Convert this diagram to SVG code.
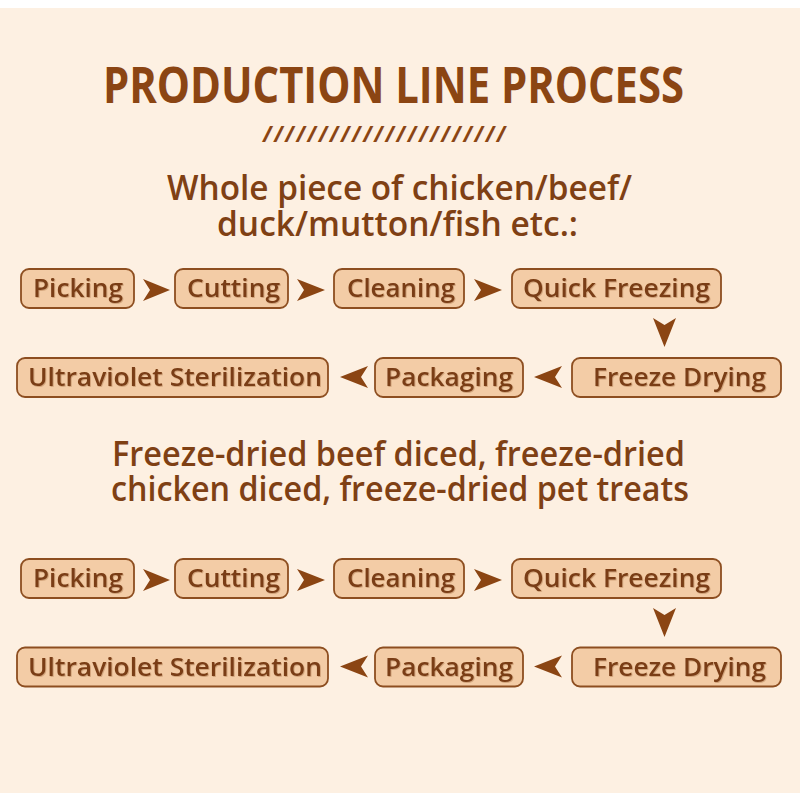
<svg xmlns="http://www.w3.org/2000/svg" width="800" height="800" viewBox="0 0 800 800">
<defs>
<filter id="sh" x="-5%" y="-20%" width="110%" height="140%">
<feDropShadow dx="0.8" dy="0.8" stdDeviation="0.6" flood-color="#B9855A" flood-opacity="0.7"/>
</filter>
</defs>
<style>
.bg{fill:#FDF0E2}
.title{font-family:"Open Sans","Liberation Sans",sans-serif;font-weight:700;fill:#8B4513;font-size:50px}
.sl{font-family:"Liberation Sans",sans-serif;fill:#8B4513;font-size:22px}
.sub{font-family:"Open Sans","Liberation Sans",sans-serif;font-weight:600;fill:#7F4014;font-size:35px}
.box rect{fill:#F3CCA6;stroke:#8D4E20;stroke-width:1.8}
.box text{font-family:"Open Sans","Liberation Sans",sans-serif;font-weight:600;fill:#7A3D12;font-size:25px;filter:url(#sh)}
.arr{fill:#8B4513}
</style>
<rect width="800" height="800" fill="#FFFFFF"/>
<rect class="bg" x="0" y="8" width="800" height="785"/>

<text class="title" x="393.5" y="103" text-anchor="middle" textLength="581" lengthAdjust="spacingAndGlyphs">PRODUCTION LINE PROCESS</text>
<text class="sl" x="384.5" y="142" text-anchor="middle" textLength="245" lengthAdjust="spacingAndGlyphs">//////////////////////</text>

<text class="sub" x="399.5" y="200" text-anchor="middle" textLength="465" lengthAdjust="spacingAndGlyphs">Whole piece of chicken/beef/</text>
<text class="sub" x="397.5" y="236" text-anchor="middle" textLength="361" lengthAdjust="spacingAndGlyphs">duck/mutton/fish etc.:</text>

<text class="sub" x="398.5" y="466" text-anchor="middle" textLength="573" lengthAdjust="spacingAndGlyphs">Freeze-dried beef diced, freeze-dried</text>
<text class="sub" x="400" y="501" text-anchor="middle" textLength="578" lengthAdjust="spacingAndGlyphs">chicken diced, freeze-dried pet treats</text>

<!-- Flow 1 -->
<g id="n1-picking" class="box"><rect x="21" y="269" width="113" height="39" rx="8"/><text x="78" y="297" text-anchor="middle" textLength="90" lengthAdjust="spacingAndGlyphs">Picking</text></g>
<g id="n1-cutting" class="box"><rect x="175" y="269" width="113" height="39" rx="8"/><text x="233.5" y="297" text-anchor="middle" textLength="93" lengthAdjust="spacingAndGlyphs">Cutting</text></g>
<g id="n1-cleaning" class="box"><rect x="334" y="269" width="130" height="39" rx="8"/><text x="401" y="297" text-anchor="middle" textLength="108" lengthAdjust="spacingAndGlyphs">Cleaning</text></g>
<g id="n1-quick-freezing" class="box"><rect x="512" y="269" width="209" height="39" rx="8"/><text x="616.5" y="297" text-anchor="middle" textLength="187" lengthAdjust="spacingAndGlyphs">Quick Freezing</text></g>
<g id="n1-freeze-drying" class="box"><rect x="572" y="358" width="209" height="39" rx="8"/><text x="679.5" y="386" text-anchor="middle" textLength="173" lengthAdjust="spacingAndGlyphs">Freeze Drying</text></g>
<g id="n1-packaging" class="box"><rect x="375" y="358" width="148" height="39" rx="8"/><text x="449" y="386" text-anchor="middle" textLength="128" lengthAdjust="spacingAndGlyphs">Packaging</text></g>
<g id="n1-uv" class="box"><rect x="17" y="358" width="311" height="39" rx="8"/><text x="175" y="386" text-anchor="middle" textLength="294" lengthAdjust="spacingAndGlyphs">Ultraviolet Sterilization</text></g>

<!-- Flow 2 -->
<g id="n2-picking" class="box"><rect x="21" y="559" width="113" height="39" rx="8"/><text x="78" y="587" text-anchor="middle" textLength="90" lengthAdjust="spacingAndGlyphs">Picking</text></g>
<g id="n2-cutting" class="box"><rect x="175" y="559" width="113" height="39" rx="8"/><text x="233.5" y="587" text-anchor="middle" textLength="93" lengthAdjust="spacingAndGlyphs">Cutting</text></g>
<g id="n2-cleaning" class="box"><rect x="334" y="559" width="130" height="39" rx="8"/><text x="401" y="587" text-anchor="middle" textLength="108" lengthAdjust="spacingAndGlyphs">Cleaning</text></g>
<g id="n2-quick-freezing" class="box"><rect x="512" y="559" width="209" height="39" rx="8"/><text x="616.5" y="587" text-anchor="middle" textLength="187" lengthAdjust="spacingAndGlyphs">Quick Freezing</text></g>
<g id="n2-freeze-drying" class="box"><rect x="572" y="647.5" width="209" height="39" rx="8"/><text x="679.5" y="675.5" text-anchor="middle" textLength="173" lengthAdjust="spacingAndGlyphs">Freeze Drying</text></g>
<g id="n2-packaging" class="box"><rect x="375" y="647.5" width="148" height="39" rx="8"/><text x="449" y="675.5" text-anchor="middle" textLength="128" lengthAdjust="spacingAndGlyphs">Packaging</text></g>
<g id="n2-uv" class="box"><rect x="17" y="647.5" width="311" height="39" rx="8"/><text x="175" y="675.5" text-anchor="middle" textLength="294" lengthAdjust="spacingAndGlyphs">Ultraviolet Sterilization</text></g>

<g id="connectors" class="arr">
<path d="M143,279 L170,290 L143,301 L150,290 Z"/>
<path d="M297,279 L325,290 L297,301 L304,290 Z"/>
<path d="M474,279 L502,290 L474,301 L481,290 Z"/>
<path d="M653,318 L664.5,325 L676,318 L664.5,347 Z"/>
<path d="M562,366 L534,377 L562,388 L555,377 Z"/>
<path d="M368,366 L340,377 L368,388 L361,377 Z"/>

<path d="M143,569 L170,580 L143,591 L150,580 Z"/>
<path d="M297,569 L325,580 L297,591 L304,580 Z"/>
<path d="M474,569 L502,580 L474,591 L481,580 Z"/>
<path d="M653,608 L664.5,615 L676,608 L664.5,637 Z"/>
<path d="M562,655.5 L534,666.5 L562,677.5 L555,666.5 Z"/>
<path d="M368,655.5 L340,666.5 L368,677.5 L361,666.5 Z"/>
</g>
</svg>
